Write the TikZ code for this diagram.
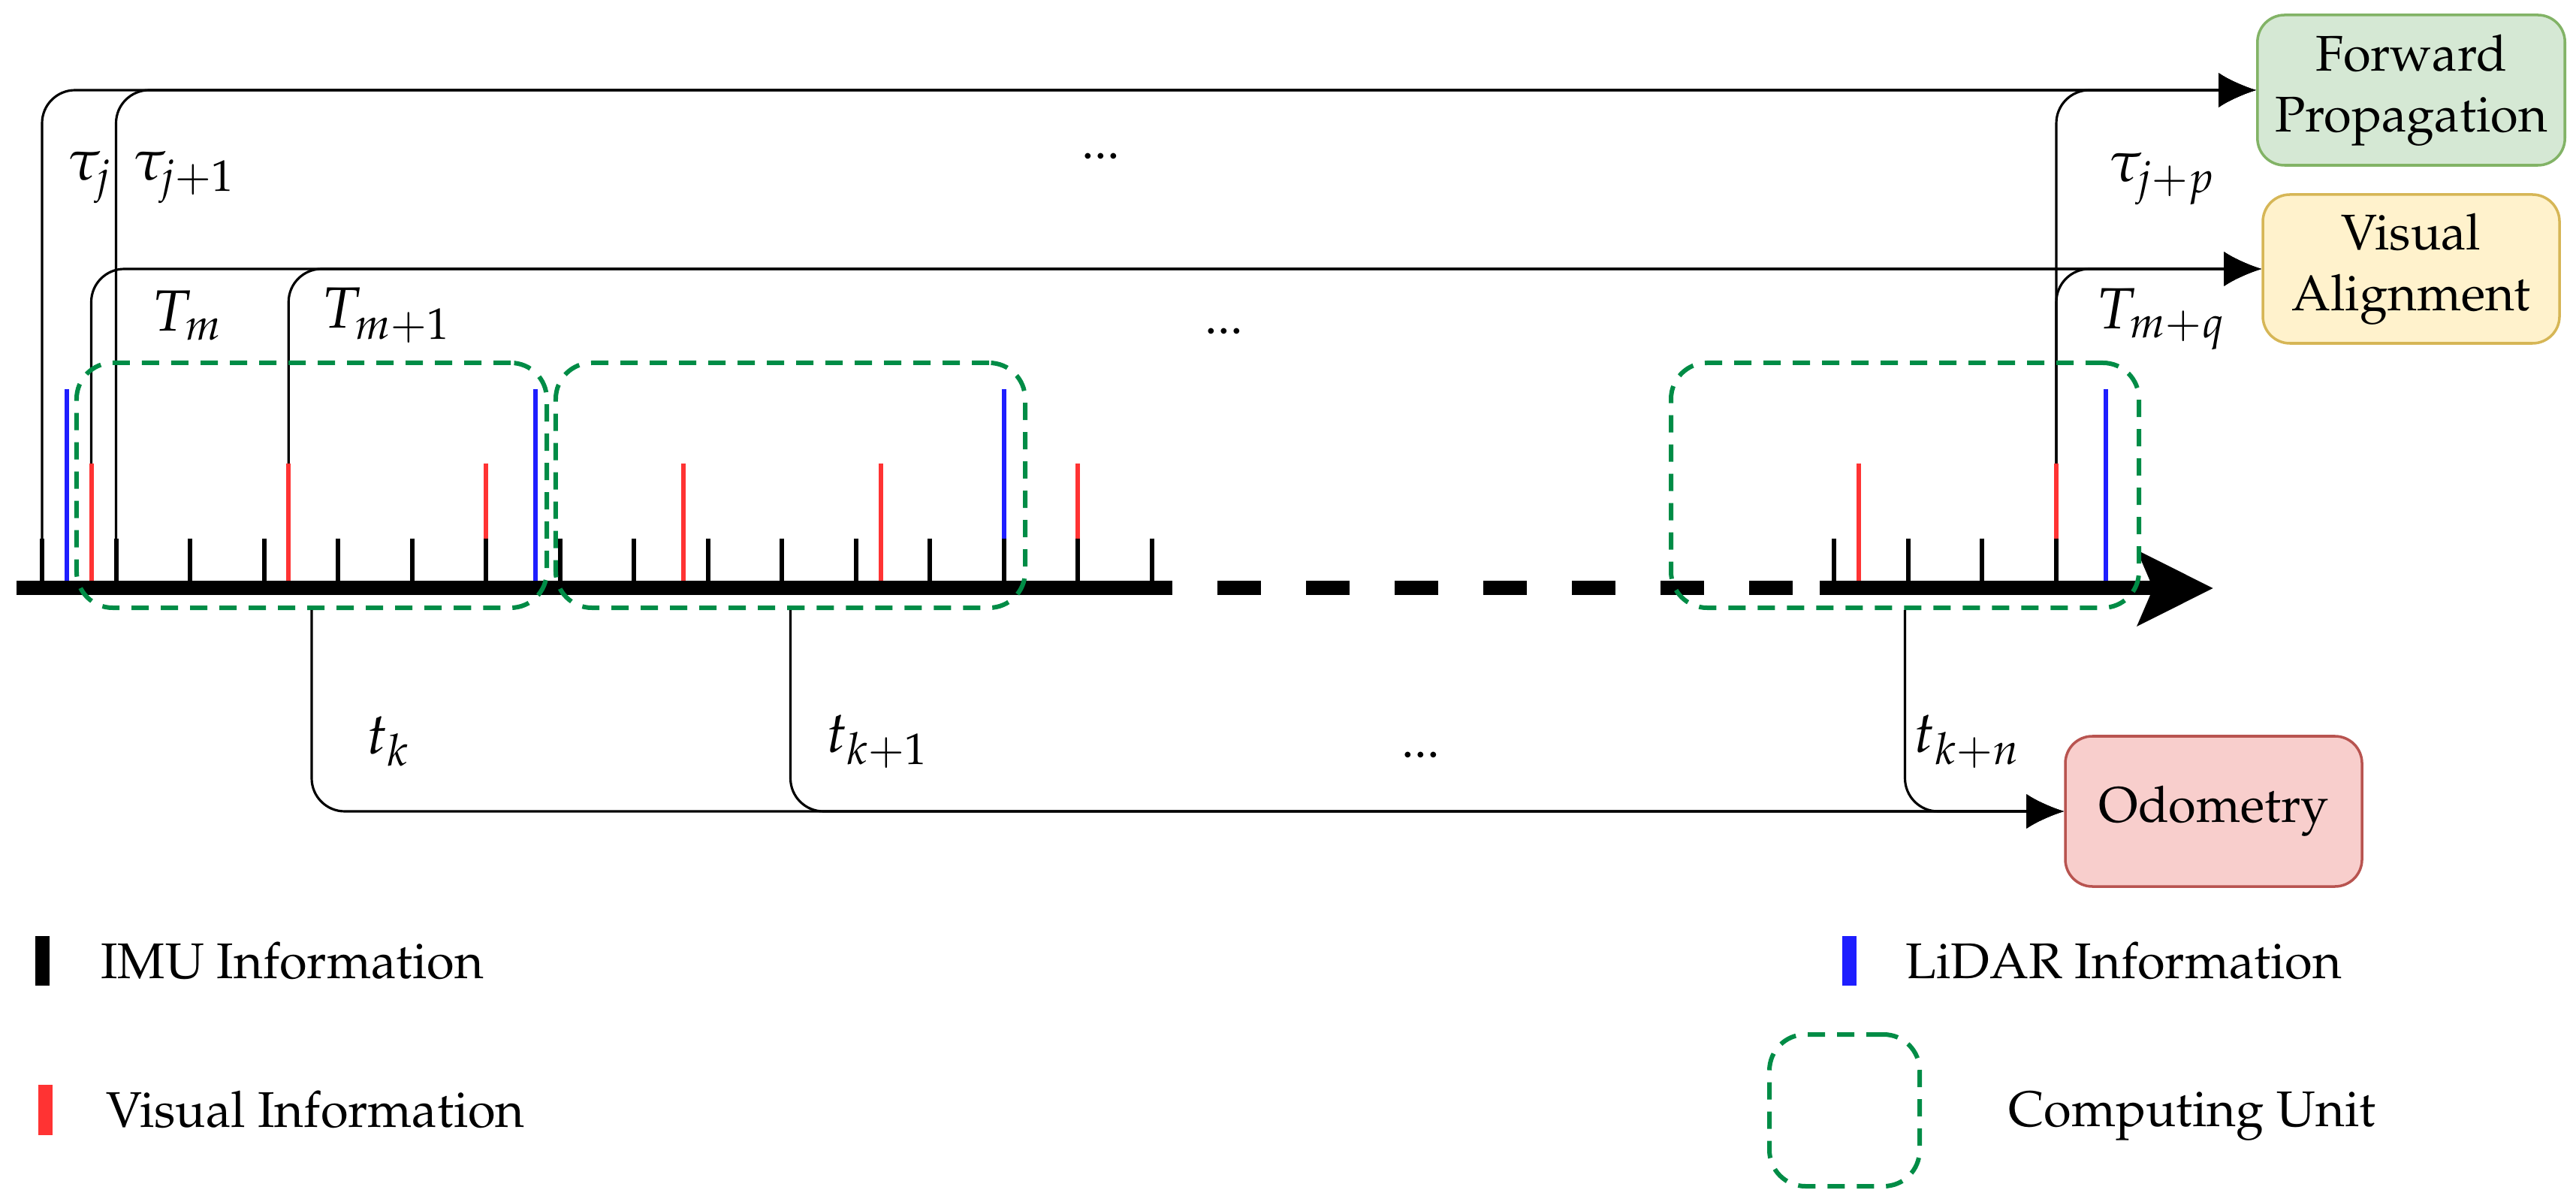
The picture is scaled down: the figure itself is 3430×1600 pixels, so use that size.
\documentclass[tikz,border=0pt]{standalone}
\usepackage[T1]{fontenc}
\usepackage{mathpazo}
\usetikzlibrary{arrows.meta,positioning}

\definecolor{cugreen}{RGB}{0,140,70}
\definecolor{visred}{RGB}{255,51,51}
\definecolor{lidarblue}{RGB}{30,30,255}
\definecolor{fwdfill}{HTML}{D5E8D4}
\definecolor{fwdline}{HTML}{82B366}
\definecolor{visfill}{HTML}{FFF2CC}
\definecolor{visline}{HTML}{D6B656}
\definecolor{odofill}{HTML}{F8CECC}
\definecolor{odoline}{HTML}{B85450}

\begin{document}
\begin{tikzpicture}[x=0.05mm, y=-0.05mm,
    conn/.style={line width=0.45pt, rounded corners=2.2mm,
      -{Latex[length=2.5mm,width=2.3mm]}},
    imutick/.style={line width=0.3mm, black},
    vistick/.style={line width=0.3mm, visred},
    lidartick/.style={line width=0.3mm, lidarblue},
    axis/.style={line width=0.95mm, black},
    cubox/.style={draw=cugreen, line width=0.3mm,
      dash pattern=on 1.15mm off 0.8mm, rounded corners=2.4mm,
      minimum height=16.3mm, inner sep=0pt},
    outbox/.style={rectangle, rounded corners=1.8mm, line width=0.5pt,
      minimum width=19.75mm, minimum height=10mm, align=center,
      font=\fontsize{9.5}{11.5}\selectfont},
    mlabel/.style={inner sep=0pt, font=\fontsize{11}{13}\selectfont},
    dotlabel/.style={inner sep=0pt, anchor=base,
      font=\fontsize{9.5}{11.5}\selectfont},
    legtext/.style={inner sep=0pt, anchor=base west,
      font=\fontsize{9.5}{11.5}\selectfont}]
  \useasboundingbox (0,0) rectangle (3430,1600);

  % Output boxes
  \node[outbox, draw=fwdline, fill=fwdfill] (fwd) at (3210.5,120) {Forward\\Propagation};
  \node[outbox, draw=visline, fill=visfill, minimum height=9.9mm] (vis) at (3210.5,358) {Visual\\Alignment};
  \node[outbox, draw=odoline, fill=odofill] (odo) at (2947.5,1080) {Odometry};

  % Tick tops used by the connectors
  \foreach \i in {0,...,15}
    \coordinate (imu\i) at (56+98.5*\i,717);
  \foreach \k in {0,...,5}
    \coordinate (cam\k) at (121.5+262.75*\k,617);
  \coordinate (imuR) at (2738,717);
  \coordinate (camR) at (2738,617);

  % Connectors to forward propagation and visual alignment
  \draw[conn] (imu0) |- (fwd.west);
  \draw[conn] (imu1) |- (fwd.west);
  \draw[conn] (imuR) |- (fwd.west);
  \draw[conn] (cam0) |- (vis.west);
  \draw[conn] (cam1) |- (vis.west);
  \draw[conn] (camR) |- (vis.west);

  % Ticks
  \foreach \k in {0,1,2}
    \draw[lidartick] (89+624*\k,518) -- (89+624*\k,783);
  \draw[lidartick] (2804,518) -- (2804,783);
  \foreach \k in {0,...,5}
    \draw[vistick] (cam\k) -- ++(0,166);
  \draw[vistick] (2475,617) -- (2475,783);
  \draw[vistick] (camR) -- (imuR);
  \foreach \i in {0,...,15}
    \draw[imutick] (imu\i) -- ++(0,66);
  \foreach \x in {2442,2541,2639,2738}
    \draw[imutick] (\x,717) -- (\x,783);

  % Time axis
  \draw[axis] (22,783) -- (1561,783);
  \draw[axis, dash pattern=on 2.9mm off 3mm] (1621,783) -- (2389,783);
  \draw[axis, -{Stealth[length=5mm,width=4.9mm,inset=1mm]}] (2423,783) -- (2947,783);

  % Computing units
  \node[cubox, minimum width=31.3mm] (cu1) at (415,646) {};
  \node[cubox, minimum width=31.25mm] (cu2) at (1052.5,646) {};
  \node[cubox, minimum width=31.15mm] (cu3) at (2536.5,646) {};

  % Connectors to odometry
  \draw[conn] (cu1.south) |- (odo.west);
  \draw[conn] (cu2.south) |- (odo.west);
  \draw[conn] (cu3.south) |- (odo.west);

  % Labels
  \node[mlabel] (tauj) at (120,236) {$\tau_j$};
  \node[mlabel] (tauj1) at (246,236) {$\tau_{j+1}$};
  \node[mlabel] (taujp) at (2880,238) {$\tau_{j+p}$};
  \node[mlabel] (Tm) at (250,420) {$T_m$};
  \node[mlabel] (Tm1) at (515,420) {$T_{m+1}$};
  \node[mlabel] (Tmq) at (2878,425) {$T_{m+q}$};
  \node[mlabel] (tk) at (518,987) {$t_k$};
  \node[mlabel] (tk1) at (1169,987) {$t_{k+1}$};
  \node[mlabel] (tkn) at (2620,987) {$t_{k+n}$};
  \node[dotlabel] (dotsA) at (1466,212) {...};
  \node[dotlabel] (dotsB) at (1630,445) {...};
  \node[dotlabel] (dotsC) at (1892,1008) {...};

  % Legend
  \draw[line width=0.95mm, black] (56.5,1246) -- (56.5,1312);
  \node[legtext] (imuleg) at (133,1302) {IMU Information};
  \draw[line width=0.95mm, visred] (60.5,1444) -- (60.5,1511);
  \node[legtext] (visleg) at (140,1500) {Visual Information};
  \draw[line width=0.95mm, lidarblue] (2462.5,1246) -- (2462.5,1312);
  \node[legtext] (lidarleg) at (2536,1302) {LiDAR Information};
  \node[cubox, minimum width=10mm, minimum height=10.1mm] (cuicon) at (2456,1478) {};
  \node[legtext] (culeg) at (2673,1499) {Computing Unit};
\end{tikzpicture}
\end{document}
